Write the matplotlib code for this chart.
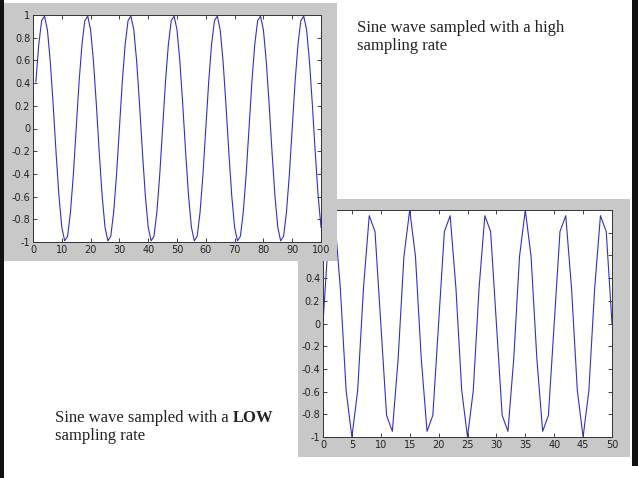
import matplotlib
matplotlib.use("Agg")
import matplotlib.pyplot as plt
from matplotlib.patches import Rectangle

# ---------------- data ----------------
# high sampling rate (sampled at integer x = 1..100)
x_high = list(range(1, 101))
y_high = [
    0.41, 0.74, 0.95, 0.99, 0.87, 0.59, 0.21, -0.21, -0.59, -0.87, -0.99, -0.95, -0.74, -0.41, 0.00,
    0.41, 0.74, 0.95, 0.99, 0.87, 0.59, 0.21, -0.21, -0.59, -0.87, -0.99, -0.95, -0.74, -0.41, 0.00,
    0.41, 0.74, 0.95, 0.99, 0.87, 0.59, 0.21, -0.21, -0.59, -0.87, -0.99, -0.95, -0.74, -0.41, 0.00,
    0.41, 0.74, 0.95, 0.99, 0.87, 0.59, 0.21, -0.21, -0.59, -0.87, -0.99, -0.95, -0.74, -0.41, 0.00,
    0.41, 0.74, 0.95, 0.99, 0.87, 0.59, 0.21, -0.21, -0.59, -0.87, -0.99, -0.95, -0.74, -0.41, 0.00,
    0.41, 0.74, 0.95, 0.99, 0.87, 0.59, 0.21, -0.21, -0.59, -0.87, -0.99, -0.95, -0.74, -0.41, 0.00,
    0.41, 0.74, 0.95, 0.99, 0.87, 0.59, 0.21, -0.21, -0.59, -0.87,
]

# low sampling rate (sampled at integer n = 0..50)
x_low = list(range(0, 51))
y_low = [
    0.00, 0.81, 0.95, 0.31, -0.59, -1.00, -0.59, 0.31, 0.95, 0.81,
    0.00, -0.81, -0.95, -0.31, 0.59, 1.00, 0.59, -0.31, -0.95, -0.81,
    0.00, 0.81, 0.95, 0.31, -0.59, -1.00, -0.59, 0.31, 0.95, 0.81,
    0.00, -0.81, -0.95, -0.31, 0.59, 1.00, 0.59, -0.31, -0.95, -0.81,
    0.00, 0.81, 0.95, 0.31, -0.59, -1.00, -0.59, 0.31, 0.95, 0.81,
    0.00,
]

y_ticks = [-1, -0.8, -0.6, -0.4, -0.2, 0, 0.2, 0.4, 0.6, 0.8, 1]
y_ticklabels = ["-1", "-0.8", "-0.6", "-0.4", "-0.2", "0", "0.2", "0.4", "0.6", "0.8", "1"]
# on the low-rate plot the top three labels are hidden behind the upper panel
y_ticklabels_low = ["-1", "-0.8", "-0.6", "-0.4", "-0.2", "0", "0.2", "0.4", "", "", ""]
x_ticks_high = [0, 10, 20, 30, 40, 50, 60, 70, 80, 90, 100]
x_ticks_low = [0, 5, 10, 15, 20, 25, 30, 35, 40, 45, 50]

text_high = "Sine wave sampled with a high\nsampling rate"
text_low_1 = "Sine wave sampled with a "
text_low_bold = "LOW"
text_low_2 = "sampling rate"

# ---------------- figure ----------------
W, H = 638, 478
fig = plt.figure(figsize=(W / 100, H / 100), dpi=100)
fig.patch.set_facecolor("white")


def fx(px):
    return px / W


def fy(py):
    return 1 - py / H


def rect_px(x0, y0, x1, y1):
    return (fx(x0), fy(y1), fx(x1) - fx(x0), fy(y0) - fy(y1))


GRAY = "#c8c8c8"
LINE = "#3030d0"

# dark side strips
for (x0, y0, x1, y1) in [(0, 0, 3.5, 478), (632, 0, 638, 466)]:
    l, b, w, h = rect_px(x0, y0, x1, y1)
    fig.patches.append(Rectangle((l, b), w, h, transform=fig.transFigure,
                                 facecolor="#111111", edgecolor="none", zorder=0.05))


def style_axes(ax, xticks, xlim, ylabels):
    ax.set_xlim(*xlim)
    ax.set_ylim(-1, 1)
    ax.set_xticks(xticks)
    ax.set_xticklabels([str(t) for t in xticks])
    ax.set_yticks(y_ticks)
    ax.set_yticklabels(ylabels)
    ax.tick_params(direction="in", length=3, width=0.6, top=True, right=True,
                   labelsize=7, pad=2, colors="#222222")
    for s in ax.spines.values():
        s.set_linewidth(0.7)
        s.set_color("#333333")
    ax.set_facecolor("white")


# panel 2 (low sampling rate) - underneath
l, b, w, h = rect_px(298, 199, 630, 457)
fig.patches.append(Rectangle((l, b), w, h, transform=fig.transFigure,
                             facecolor=GRAY, edgecolor="none", zorder=0.1))
ax2 = fig.add_axes(rect_px(323, 210, 612, 437))
ax2.set_zorder(0.2)
ax2.plot(x_low, y_low, color=LINE, linewidth=0.8)
style_axes(ax2, x_ticks_low, (0, 50), y_ticklabels_low)

# panel 1 (high sampling rate) - on top
l, b, w, h = rect_px(4, 3, 337, 261)
fig.patches.append(Rectangle((l, b), w, h, transform=fig.transFigure,
                             facecolor=GRAY, edgecolor="none", zorder=0.3))
ax1 = fig.add_axes(rect_px(33, 15, 321, 242))
ax1.set_zorder(0.4)
ax1.plot(x_high, y_high, color=LINE, linewidth=0.8)
style_axes(ax1, x_ticks_high, (0, 100), y_ticklabels)

# ---------------- texts ----------------
serif = ["Liberation Serif", "DejaVu Serif"]
fs = 12
fig.text(fx(357), fy(20), text_high, ha="left", va="top", fontsize=fs,
         family=serif, color="#222222", linespacing=1.15, zorder=5)

t1 = fig.text(fx(55), fy(410), text_low_1, ha="left", va="top", fontsize=fs,
              family=serif, color="#222222", zorder=5)
fig.canvas.draw()
bb = t1.get_window_extent()
fig.text(bb.x1 / W, fy(410), text_low_bold, ha="left", va="top", fontsize=fs,
         family=serif, weight="bold", color="#222222", zorder=5)
fig.text(fx(55), fy(428), text_low_2, ha="left", va="top", fontsize=fs,
         family=serif, color="#222222", zorder=5)

fig.savefig("out.png", dpi=100, facecolor="white")
